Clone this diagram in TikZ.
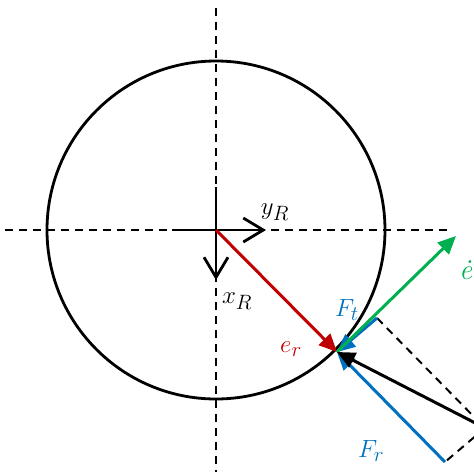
\documentclass[tikz,border=0pt]{standalone}
\usepackage{fontspec}
\usepackage{tikz}
\usetikzlibrary{calc}
\usetikzlibrary{positioning}
\usetikzlibrary{arrows.meta}

\definecolor{radred}{RGB}{192,0,0}
\definecolor{velgreen}{RGB}{0,176,80}
\definecolor{forceblue}{RGB}{0,112,192}

\tikzset{
    guide/.style={draw, line width=2pt, dash pattern=on 8pt off 6pt},
    axis/.style={draw, line width=2.8pt, -{Straight Barb[length=20pt, width=24pt]}},
    vec/.style={draw, line width=3pt, -{Triangle[length=18pt, width=16pt]}},
    lbl/.style={font=\fontsize{29}{34}\selectfont, inner sep=1pt},
}

\begin{document}
\begin{tikzpicture}[x=1pt, y=-1pt]
        \useasboundingbox (0,0) rectangle (474,474);
        \clip (0,0) rectangle (474,474);

        \coordinate (O) at (216,230);
        \coordinate (P) at (337,352);
        \coordinate (ft end) at (377,318);
        \coordinate (fr end) at (445,462);
        \coordinate (f end) at ($(ft end) + (fr end) - (P)$);
        \coordinate (edot end) at (456,236);

        % centre lines
        \coordinate (v top) at (216,8);
        \coordinate (v bot) at (216,472);
        \coordinate (h left) at (5,230);
        \coordinate (h right) at (448,230);
        \path[guide] (v top) -- (v bot);
        \path[guide] (h left) -- (h right);

        \draw[line width=2.8pt] (O) circle[radius=169pt];

        % wheel frame
        \coordinate (y start) at (172,230);
        \coordinate (y end) at (266,230);
        \coordinate (x start) at (216,187);
        \coordinate (x end) at (216,280);
        \path[axis] (y start) -- (y end);
        \path[axis] (x start) -- (x end);
        \node[lbl] (yR) at (275,212) {$y_R$};
        \node[lbl] (xR) at (237,301) {$x_R$};

        % parallelogram of forces
        \path[guide] (ft end) -- (f end) -- (fr end);

        \path[vec, radred] (O) -- (P);
        \path[vec, forceblue] (ft end) -- (P);
        \path[vec, velgreen] (P) -- (edot end);
        \path[vec, forceblue] (fr end) -- (P);
        \path[vec, black] (f end) -- (P);

        \node[lbl, text=radred] (er) at (291,349) {$e_r$};
        \node[lbl, text=forceblue] (Ft) at (347,310) {$F_t$};
        \node[lbl, text=forceblue] (Fr) at (371,451) {$F_r$};
        \node[lbl, text=velgreen, anchor=west] (edot) at (458,270) {\itshape ė};
\end{tikzpicture}
\end{document}
